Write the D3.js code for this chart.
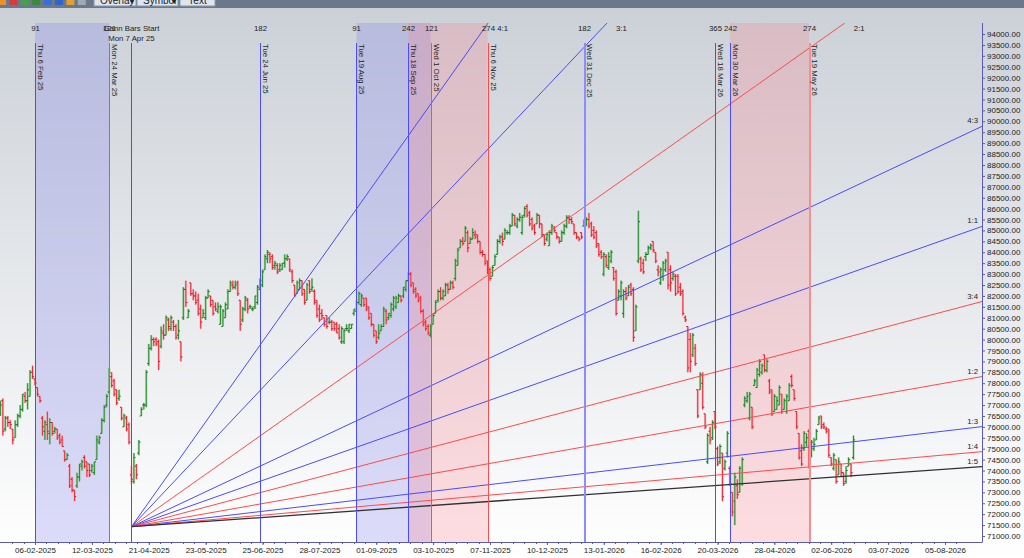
<!DOCTYPE html>
<html>
<head>
<meta charset="utf-8">
<title>Gann fan chart</title>
<script src="https://cdn.jsdelivr.net/npm/d3@7"></script>
<style>
body { margin: 0; background: #fff; }
svg { display: block; font-family: "Liberation Sans", Arial, sans-serif; }
</style>
</head>
<body>
<div id="chart"></div>
<script>
const width = 1024, height = 558;

// daily bars, prices in hundreds: [open, high, low, close]; first bar sits at index -14 (Feb 6 2025 = 0)
const firstBar = -14;
const bars = [
  [766,772,765,770],[772,773,756,758],[759,765,758,764],[764,765,760,762],[762,763,759,761],
  [759,759,752,754],[755,763,755,761],[761,766,760,765],[765,770,764,768],[768,775,767,775],
  [774,776,771,772],[772,780,768,777],[774,786,774,785],[785,788,782,783],
  [782,782,779,780],[778,778,774,775],[774,774,771,772],[764,765,756,760],[758,763,754,762],
  [761,767,754,758],[757,764,752,762],[762,762,756,757],[758,760,757,759],[759,759,754,755],
  [756,757,752,753],[754,756,751,751],[749,749,744,745],[745,748,745,747],[742,743,732,733],
  [736,737,730,731],[731,731,726,728],[733,739,732,737],[737,743,735,743],[742,745,740,744],
  [746,747,741,742],[744,744,737,740],[743,743,737,738],[740,743,739,742],[739,744,738,744],
  [745,756,745,754],[753,756,752,755],[757,764,757,763],[763,770,762,769],[770,775,769,774],
  [776,787,775,785],[783,785,778,779],[781,782,774,775],[777,777,770,771],[773,777,772,774],
  [769,769,763,764],[760,766,760,765],[764,765,758,759],[761,762,752,753],[738,742,734,736],
  [735,748,734,746],[742,743,736,738],[748,754,747,753],[765,769,765,768],[770,771,768,770],
  [770,786,769,785],[789,798,788,796],[796,802,795,800],[800,801,797,799],[800,801,797,798],
  [799,800,786,790],[797,806,796,804],[803,807,800,802],[802,811,802,810],[809,810,804,806],
  [805,811,804,810],[808,809,804,806],[806,807,800,801],[802,809,800,804],[799,799,790,792],
  [810,824,809,823],[823,827,815,817],[810,814,810,813],[826,826,820,821],[821,823,818,820],
  [820,822,816,817],[818,821,811,812],[814,816,805,808],[810,814,810,812],[810,820,809,819],
  [819,823,819,822],[820,820,815,816],[818,818,811,812],[815,817,813,814],[813,817,812,815],
  [807,816,807,815],[806,814,806,813],[810,817,810,816],[814,823,814,822],[822,827,822,826],
  [825,827,823,824],[824,827,823,825],[826,827,820,821],[818,818,804,807],[809,815,808,814],
  [814,820,813,819],[818,819,812,814],[815,816,814,815],[814,815,813,814],[815,820,814,820],
  [817,825,816,824],[823,828,823,827],[825,832,824,831],[832,839,832,838],[837,841,835,840],
  [839,840,835,837],[838,839,832,833],[834,836,832,835],[834,835,830,831],[832,835,831,834],
  [832,835,832,835],[835,839,833,837],[837,839,836,838],[837,837,831,832],[831,832,826,827],
  [825,825,820,820],[821,827,821,826],[823,828,823,827],[827,827,820,821],[823,823,816,817],
  [818,826,818,825],[827,827,821,822],[823,828,822,824],[822,823,816,817],[818,818,810,811],
  [814,816,808,809],[812,814,809,811],[810,810,806,807],[811,811,805,806],[808,810,807,808],
  [808,809,804,805],[808,808,804,805],[807,808,803,803],[805,807,800,801],[799,806,798,805],
  [799,805,798,804],[805,807,804,805],[804,807,803,807],[805,807,805,807],[812,814,811,814],
  [813,818,813,817],[817,822,816,821],[816,821,815,820],[819,819,815,816],[819,819,813,814],
  [815,815,809,810],[812,812,806,807],[807,807,801,802],[804,804,798,799],[801,807,800,803],
  [804,807,804,806],[806,815,806,814],[813,814,807,809],[810,812,809,812],[811,817,810,816],
  [814,820,813,819],[815,820,814,819],[817,821,817,820],[820,820,817,818],[820,824,819,824],
  [823,827,822,827],[827,831,826,830],[830,831,824,825],[826,826,821,822],[823,824,819,820],
  [821,821,817,818],[819,820,812,813],[813,814,806,807],[808,809,804,805],[806,807,802,803],
  [802,807,801,806],[807,812,807,811],[812,818,812,817],[818,823,817,822],[822,824,818,819],
  [819,823,818,822],[820,826,820,825],[825,826,821,823],[823,827,823,826],[826,827,823,824],
  [828,837,827,836],[834,842,834,841],[842,846,842,845],[845,847,843,844],[845,852,845,851],
  [849,850,840,842],[844,847,844,846],[846,851,846,849],[848,850,846,847],[848,848,844,845],
  [845,845,839,840],[840,841,838,839],[839,839,834,835],[836,836,830,832],[832,833,827,828],
  [829,834,829,833],[834,839,834,838],[839,846,839,845],[845,848,844,847],[847,849,843,845],
  [846,851,846,850],[849,850,848,849],[849,853,848,852],[852,858,852,857],[857,857,852,853],
  [852,856,851,855],[855,858,854,856],[849,857,848,856],[857,861,856,860],[861,862,856,857],
  [858,859,852,853],[855,856,850,851],[852,853,848,849],[853,858,853,857],[857,857,851,853],
  [853,853,847,848],[848,848,843,844],[846,849,845,848],[843,850,843,849],[849,853,848,852],
  [851,852,849,850],[849,849,846,847],[847,847,844,845],[845,850,845,849],[849,853,848,852],
  [852,857,851,856],[856,857,853,855],[855,856,853,854],[853,853,848,849],[849,849,846,847],
  [847,847,845,846],[849,849,846,847],[852,855,852,854],[853,856,852,855],[855,858,851,852],
  [853,854,847,848],[850,852,846,847],[849,850,842,843],[844,844,838,839],[840,841,837,838],
  [830,840,829,839],[838,839,833,834],[833,840,832,838],[836,841,835,840],[833,833,827,828],
  [831,832,811,812],[818,823,818,822],[820,827,818,826],[812,823,810,822],[822,824,818,819],
  [820,825,820,824],[825,826,820,821],[823,824,799,801],[804,816,804,815],[836,859,835,854],
  [837,838,831,832],[835,837,830,831],[838,840,836,839],[839,843,839,842],[842,844,841,843],
  [845,845,840,841],[840,840,835,836],[832,834,829,831],[826,833,825,832],[829,836,827,835],
  [832,837,831,836],[840,840,823,825],[832,834,822,826],[828,831,827,830],[829,830,820,821],
  [829,830,821,822],[824,826,820,821],[822,823,811,812],[810,811,808,809],[806,806,785,787],
  [800,803,785,790],[793,803,792,802],[796,798,788,789],[777,777,764,765],[777,785,777,784],
  [780,785,768,769],[766,766,759,760],[744,757,743,756],[758,760,752,754],[755,763,754,762],
  [767,767,759,760],[750,751,742,743],[744,752,743,751],[748,748,726,728],[741,745,740,744],
  [748,758,746,757],[741,742,733,734],[730,730,719,721],[726,739,715,737],[733,736,727,729],
  [730,742,730,741],[734,746,733,745],[770,774,769,773],[772,776,771,774],[764,776,763,775],
  [769,769,759,760],[779,782,779,781],[778,787,778,786],[784,791,783,790],[785,789,784,788],
  [793,793,785,786],[786,791,785,790],[781,782,775,776],[777,777,765,766],[767,775,767,774],
  [768,774,768,772],[770,779,770,778],[775,775,766,767],[768,773,768,772],[767,775,766,774],
  [772,780,772,779],[783,784,778,779],[777,777,772,773],[767,767,759,760],[757,757,745,746],
  [749,752,742,743],[750,758,749,757],[753,757,751,755],[758,759,741,742],[747,754,746,753],
  [750,755,749,752],[754,759,754,758],[761,765,761,764],[765,765,759,760],[761,762,759,760],
  [759,760,757,758],[759,759,746,747],[746,746,742,743],[741,748,740,747],[745,745,734,735],
  [738,746,738,744],[743,743,737,739],[739,739,733,734],[735,742,734,740],[742,746,742,745],
  [743,743,737,739],[746,756,745,754]
];

// bottom axis labels, one every 23 trading days starting at index 0
const tickStep = 23;
const dateTicks = ["06-02-2025","12-03-2025","21-04-2025","23-05-2025","25-06-2025","28-07-2025",
  "01-09-2025","03-10-2025","07-11-2025","10-12-2025","13-01-2026","16-02-2026","20-03-2026",
  "28-04-2026","02-06-2026","03-07-2026","05-08-2026"];

// time cycle markers
const markerIdx   = [0, 30, 91, 130, 151, 160, 183, 222, 275, 281, 313];
const markerDate  = ["Thu 6 Feb 25","Mon 24 Mar 25","Tue 24 Jun 25","Tue 19 Aug 25","Thu 18 Sep 25",
  "Wed 1 Oct 25","Thu 6 Nov 25","Wed 31 Dec 25","Wed 18 Mar 26","Mon 30 Mar 26","Tue 19 May 26"];
const markerCount = ["91","121","182","91","242","121","274","182","365","242","274"];
const markerKind  = ["blue","red","blue","blue","blue","red","red","blueSoft","blue","blue","redSoft"];

// shaded cycle windows
const zoneFrom = [0, 130, 151, 281];
const zoneTo   = [30, 160, 183, 313];
const zoneKind = ["blue","blue","red","red"];

// gann fan
const gannIdx = 39, gannPrice = 71425, gannUnit = 40;   // 1x1 = 40 points per bar
const fanNames  = ["4:1","3:1","2:1","4:3","1:1","3:4","1:2","1:3","1:4","1:5"];
const fanRatios = [4, 3, 2, 4/3, 1, 3/4, 1/2, 1/3, 1/4, 1/5];
const fanKind   = ["blue","blue","red","blue","blue","red","red","blue","red","black"];

const plotTop = 23, plotBottom = 542, plotRight = 982;
const colors = {blue: "#4b4bff", red: "#ff4b4b", blueSoft: "#8c8cff", redSoft: "#f58f8f", black: "#303030"};

const x = d3.scaleLinear().domain([0, 16 * tickStep]).range([35, 945]);
const y = d3.scaleLinear().domain([71000, 94000]).range([536, 34]);

const svg = d3.select("#chart").append("svg")
    .attr("width", width)
    .attr("height", height);

const defs = svg.append("defs");
const grad = defs.append("linearGradient").attr("id", "bg")
    .attr("x1", 0).attr("y1", 0).attr("x2", 0).attr("y2", 1);
grad.append("stop").attr("offset", "0%").attr("stop-color", "#cbd0d7");
grad.append("stop").attr("offset", "100%").attr("stop-color", "#ffffff");
defs.append("clipPath").attr("id", "plot").append("rect")
    .attr("x", 0).attr("y", plotTop).attr("width", plotRight).attr("height", plotBottom - plotTop);

svg.append("rect").attr("width", width).attr("height", height).attr("fill", "url(#bg)");

// toolbar strip at the top
const tb = svg.append("g");
tb.append("rect").attr("width", width).attr("height", 8).attr("fill", "#6b788c");
const iconCols = ["#e8902a","#d23c3c","#4aa04a","#3b8a3b","#3a6fd0","#2f64c8","#e0a030","#a0a8b4"];
tb.selectAll("rect.icon").data(iconCols).join("rect")
    .attr("class", "icon")
    .attr("x", (d, i) => i * 11.4 - 2).attr("y", 0).attr("width", 8).attr("height", 5)
    .attr("fill", d => d);
const btns = [["Overlay", 94, 42], ["Symbol", 137, 41], ["Text", 180, 35]];
btns.forEach(([t, bx, bw], i) => {
  tb.append("rect").attr("x", bx).attr("y", -4).attr("width", bw).attr("height", 10)
      .attr("fill", "#dfe5ee").attr("stroke", "#8c97a8");
  tb.append("text").attr("x", bx + (i < 2 ? 6 : bw / 2)).attr("y", 3.5)
      .attr("text-anchor", i < 2 ? "start" : "middle")
      .attr("font-size", 10).attr("fill", "#222").text(t);
  if (i < 2) tb.append("text").attr("x", bx + bw - 8).attr("y", 3.5)
      .attr("font-size", 8).attr("fill", "#222").text("\u25BC");
});

const plot = svg.append("g").attr("clip-path", "url(#plot)");

// shaded windows
plot.selectAll("rect.zone").data(zoneFrom).join("rect")
    .attr("class", "zone")
    .attr("x", d => x(d))
    .attr("width", (d, i) => x(zoneTo[i]) - x(d))
    .attr("y", plotTop)
    .attr("height", plotBottom - plotTop)
    .attr("fill", (d, i) => zoneKind[i] === "blue" ? "rgb(120,120,235)" : "rgb(250,125,135)")
    .attr("fill-opacity", 0.25);

// OHLC bars
const barData = bars.map((b, k) => ({i: firstBar + k, o: b[0] * 100, h: b[1] * 100, l: b[2] * 100, c: b[3] * 100}));
const bar = plot.append("g").selectAll("g").data(barData).join("g");
const up = d => d.c >= d.o;
bar.append("rect")
    .attr("x", d => x(d.i) - 1.1)
    .attr("width", 2.2)
    .attr("y", d => y(d.h))
    .attr("height", d => Math.max(1, y(d.l) - y(d.h)))
    .attr("fill", d => up(d) ? "#8cc88c" : "#f5a0aa")
    .attr("opacity", 0.75);
bar.append("line")
    .attr("x1", d => x(d.i)).attr("x2", d => x(d.i))
    .attr("y1", d => y(d.h)).attr("y2", d => y(d.l))
    .attr("stroke", d => up(d) ? "#2f8f34" : "#ee2a36").attr("stroke-width", 1);
bar.append("line")
    .attr("x1", d => x(d.i) - 1.6).attr("x2", d => x(d.i))
    .attr("y1", d => y(d.o)).attr("y2", d => y(d.o))
    .attr("stroke", d => up(d) ? "#1f6a22" : "#c41a24");
bar.append("line")
    .attr("x1", d => x(d.i)).attr("x2", d => x(d.i) + 1.6)
    .attr("y1", d => y(d.c)).attr("y2", d => y(d.c))
    .attr("stroke", d => up(d) ? "#1f6a22" : "#c41a24");

// gann fan lines
const topPrice = y.invert(plotTop);
const lastIdx = x.invert(plotRight);
const fan = fanRatios.map((r, k) => {
  const slope = r * gannUnit;
  let endIdx = lastIdx, endPrice = gannPrice + slope * (lastIdx - gannIdx), top = false;
  if (endPrice > topPrice) {
    endIdx = gannIdx + (topPrice - gannPrice) / slope;
    endPrice = topPrice;
    top = true;
  }
  return {name: fanNames[k], kind: fanKind[k], endIdx, endPrice, top};
});
plot.selectAll("line.fan").data(fan).join("line")
    .attr("class", "fan")
    .attr("x1", x(gannIdx)).attr("y1", y(gannPrice))
    .attr("x2", d => x(d.endIdx)).attr("y2", d => y(d.endPrice))
    .attr("stroke", d => colors[d.kind])
    .attr("stroke-width", d => d.kind === "black" ? 1.3 : 1);

// vertical cycle lines, drawn over the bars
const vx = i => Math.round(x(i)) + 0.5;
const vlines = plot.append("g").attr("shape-rendering", "crispEdges");
vlines.selectAll("line").data(markerIdx).join("line")
    .attr("x1", d => vx(d)).attr("x2", d => vx(d))
    .attr("y1", 43).attr("y2", plotBottom)
    .attr("stroke", (d, i) => colors[markerKind[i]])
    .attr("stroke-width", (d, i) => markerKind[i].endsWith("Soft") ? 2 : 1);
vlines.append("line")
    .attr("x1", vx(gannIdx)).attr("x2", vx(gannIdx))
    .attr("y1", 43).attr("y2", plotBottom)
    .attr("stroke", colors.blue);

const lbl = svg.append("g").attr("font-size", 7.8).attr("fill", "#222");

lbl.selectAll("text.fan").data(fan).join("text")
    .attr("class", "fan")
    .attr("x", d => d.top ? x(d.endIdx) + 9 : plotRight - 4)
    .attr("y", d => d.top ? 31 : y(d.endPrice) - 3)
    .attr("text-anchor", d => d.top ? "start" : "end")
    .text(d => d.name);

// cycle counts on top, dates rotated along each line
lbl.selectAll("text.count").data(markerIdx).join("text")
    .attr("class", "count")
    .attr("x", d => vx(d)).attr("y", 31)
    .attr("text-anchor", "middle")
    .text((d, i) => markerCount[i]);
lbl.selectAll("text.mdate").data(markerIdx).join("text")
    .attr("class", "mdate")
    .attr("transform", d => `translate(${vx(d) + 2.5},44) rotate(90)`)
    .text((d, i) => markerDate[i]);
lbl.append("text").attr("x", x(gannIdx)).attr("y", 31).attr("text-anchor", "middle").text("Gann Bars Start");
lbl.append("text").attr("x", x(gannIdx)).attr("y", 41).attr("text-anchor", "middle").text("Mon 7 Apr 25");

// right price axis
const priceTicks = d3.range(71000, 94001, 500);
const yAxis = svg.append("g")
    .attr("transform", `translate(${plotRight},0)`)
    .call(d3.axisRight(y).tickValues(priceTicks).tickSize(3).tickPadding(2).tickFormat(d => d.toFixed(2)));
yAxis.select(".domain").remove();
yAxis.selectAll("line").attr("stroke", "#5a5aa8");
yAxis.selectAll("text").attr("font-size", 8).attr("fill", "#222")
    .attr("font-family", "'Liberation Sans', Arial, sans-serif");
svg.append("line").attr("x1", plotRight + 0.5).attr("x2", plotRight + 0.5)
    .attr("y1", plotTop).attr("y2", plotBottom)
    .attr("stroke", "#5a5ab4");

// bottom date axis
const majorIdx = dateTicks.map((d, i) => i * tickStep);
const minorIdx = d3.range(-2 * tickStep / 5, 16 * tickStep + 0.1 + tickStep / 5, tickStep / 5)
    .filter(v => x(v) >= 0 && x(v) < plotRight);
const xAxis = svg.append("g")
    .attr("transform", `translate(0,${plotBottom})`)
    .call(d3.axisBottom(x).tickValues(majorIdx).tickSize(3).tickPadding(2).tickFormat((d, i) => dateTicks[i]));
xAxis.select(".domain").remove();
xAxis.selectAll("line").attr("stroke", "#5a5aa8");
xAxis.selectAll("text").attr("font-size", 8).attr("fill", "#222")
    .attr("font-family", "'Liberation Sans', Arial, sans-serif");
svg.append("g").selectAll("line").data(minorIdx).join("line")
    .attr("x1", d => Math.round(x(d)) + 0.5).attr("x2", d => Math.round(x(d)) + 0.5)
    .attr("y1", plotBottom).attr("y2", plotBottom + 2)
    .attr("stroke", "#5a5aa8");
svg.append("line").attr("x1", 0).attr("x2", plotRight + 0.5)
    .attr("y1", plotBottom + 0.5).attr("y2", plotBottom + 0.5)
    .attr("stroke", "#5a5ab4");
</script>
</body>
</html>
